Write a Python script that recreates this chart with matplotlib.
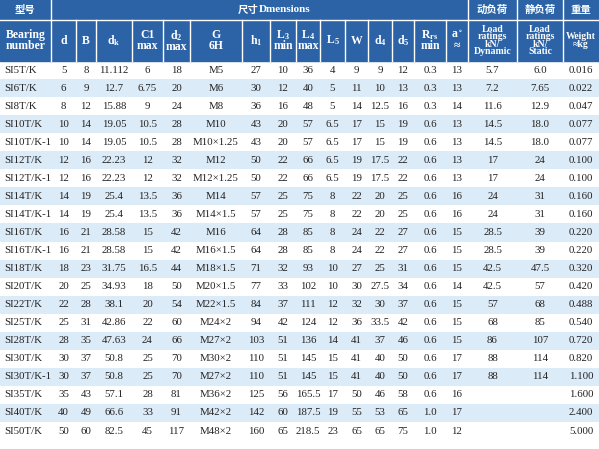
import matplotlib.pyplot as plt
from matplotlib.patches import Rectangle

plt.rcParams['font.family'] = ['Liberation Serif', 'Noto Sans CJK SC']
plt.rcParams['mathtext.fontset'] = 'stix'

# table data
models = ['SI5T/K', 'SI6T/K', 'SI8T/K', 'SI10T/K', 'SI10T/K-1', 'SI12T/K', 'SI12T/K-1',
          'SI14T/K', 'SI14T/K-1', 'SI16T/K', 'SI16T/K-1', 'SI18T/K', 'SI20T/K', 'SI22T/K',
          'SI25T/K', 'SI28T/K', 'SI30T/K', 'SI30T/K-1', 'SI35T/K', 'SI40T/K', 'SI50T/K']
d = ['5', '6', '8', '10', '10', '12', '12', '14', '14', '16', '16', '18', '20', '22', '25', '28', '30', '30', '35', '40', '50']
B = ['8', '9', '12', '14', '14', '16', '16', '19', '19', '21', '21', '23', '25', '28', '31', '35', '37', '37', '43', '49', '60']
dk = ['11.112', '12.7', '15.88', '19.05', '19.05', '22.23', '22.23', '25.4', '25.4', '28.58', '28.58',
      '31.75', '34.93', '38.1', '42.86', '47.63', '50.8', '50.8', '57.1', '66.6', '82.5']
C1 = ['6', '6.75', '9', '10.5', '10.5', '12', '12', '13.5', '13.5', '15', '15', '16.5', '18', '20',
      '22', '24', '25', '25', '28', '33', '45']
d2 = ['18', '20', '24', '28', '28', '32', '32', '36', '36', '42', '42', '44', '50', '54', '60', '66',
      '70', '70', '81', '91', '117']
G = ['M5', 'M6', 'M8', 'M10', 'M10×1.25', 'M12', 'M12×1.25', 'M14', 'M14×1.5', 'M16', 'M16×1.5',
     'M18×1.5', 'M20×1.5', 'M22×1.5', 'M24×2', 'M27×2', 'M30×2', 'M27×2', 'M36×2', 'M42×2', 'M48×2']
h1 = ['27', '30', '36', '43', '43', '50', '50', '57', '57', '64', '64', '71', '77', '84', '94', '103',
      '110', '110', '125', '142', '160']
L3 = ['10', '12', '16', '20', '20', '22', '22', '25', '25', '28', '28', '32', '33', '37', '42', '51',
      '51', '51', '56', '60', '65']
L4 = ['36', '40', '48', '57', '57', '66', '66', '75', '75', '85', '85', '93', '102', '111', '124', '136',
      '145', '145', '165.5', '187.5', '218.5']
L5 = ['4', '5', '5', '6.5', '6.5', '6.5', '6.5', '8', '8', '8', '8', '10', '10', '12', '12', '14',
      '15', '15', '17', '19', '23']
W = ['9', '11', '14', '17', '17', '19', '19', '22', '22', '24', '24', '27', '30', '32', '36', '41',
     '41', '41', '50', '55', '65']
d4 = ['9', '10', '12.5', '15', '15', '17.5', '17.5', '20', '20', '22', '22', '25', '27.5', '30', '33.5',
      '37', '40', '40', '46', '53', '65']
d5 = ['12', '13', '16', '19', '19', '22', '22', '25', '25', '27', '27', '31', '34', '37', '42', '46',
      '50', '50', '58', '65', '75']
rrs = ['0.3', '0.3', '0.3', '0.6', '0.6', '0.6', '0.6', '0.6', '0.6', '0.6', '0.6', '0.6', '0.6', '0.6',
       '0.6', '0.6', '0.6', '0.6', '0.6', '1.0', '1.0']
alpha = ['13', '13', '14', '13', '13', '13', '13', '16', '16', '15', '15', '15', '14', '15', '15', '15',
         '17', '17', '16', '17', '12']
dyn = ['5.7', '7.2', '11.6', '14.5', '14.5', '17', '17', '24', '24', '28.5', '28.5', '42.5', '42.5',
       '57', '68', '86', '88', '88', '', '', '']
stat = ['6.0', '7.65', '12.9', '18.0', '18.0', '24', '24', '31', '31', '39', '39', '47.5', '57', '68',
        '85', '107', '114', '114', '', '', '']
weight = ['0.016', '0.022', '0.047', '0.077', '0.077', '0.100', '0.100', '0.160', '0.160', '0.220',
          '0.220', '0.320', '0.420', '0.488', '0.540', '0.720', '0.820', '1.100', '1.600', '2.400', '5.000']

columns = [models, d, B, dk, C1, d2, G, h1, L3, L4, L5, W, d4, d5, rrs, alpha, dyn, stat, weight]
headers = ['Bearing\nnumber', 'd', 'B', 'd$_\\mathregular{k}$', 'C1\nmax', 'd$_\\mathregular{2}$\nmax',
           'G\n6H', 'h$_\\mathregular{1}$', 'L$_\\mathregular{3}$\nmin', 'L$_\\mathregular{4}$\nmax',
           'L$_\\mathregular{5}$', 'W', 'd$_\\mathregular{4}$', 'd$_\\mathregular{5}$',
           'R$_\\mathregular{rs}$\nmin', 'a$^\\circ$\n≈', 'Load\nratings\nkN/\nDynamic',
           'Load\nratings\nkN/\nStatic', 'Weight\n≈kg']
edges = [0, 51, 76, 96, 132, 163, 190, 242, 270, 296, 320, 345, 368, 392, 414, 446, 468, 517, 563, 599]

hdr_blue = '#2b63a6'
stripe = '#dcebf8'
top_h, hdr_h, row_h = 20, 41, 18.05

fig = plt.figure(figsize=(5.99, 4.49), dpi=100)
ax = fig.add_axes([0, 0, 1, 1])
ax.set_xlim(0, 599)
ax.set_ylim(449, 0)
ax.axis('off')

# header background
ax.add_patch(Rectangle((0, 0), 599, top_h + hdr_h, color=hdr_blue))
ax.plot([0, 599], [top_h, top_h], color='white', lw=1)
for x in edges[1:-1]:
    ax.plot([x, x], [top_h, top_h + hdr_h], color='white', lw=1)
for x in [51, 468, 517, 563]:
    ax.plot([x, x], [0, top_h], color='white', lw=1)

cjk = ['Noto Sans CJK SC', 'DejaVu Sans']
ax.text(25.5, 10, '型号', color='white', fontsize=7.5, ha='center', va='center', family=cjk, weight='bold')
ax.text(259, 10, '尺寸', color='white', fontsize=7.5, ha='right', va='center', family=cjk, weight='bold')
ax.text(259, 10, 'Dmensions', color='white', fontsize=8, ha='left', va='center', weight='bold')
for i, lab in zip([16, 17, 18], ['动负荷', '静负荷', '重量']):
    ax.text((edges[i] + edges[i + 1]) / 2, 10, lab, color='white', fontsize=7.5, ha='center',
            va='center', family=cjk, weight='bold')
for i, lab in enumerate(headers):
    fs = 7 if i >= 16 else 8.5
    ax.text((edges[i] + edges[i + 1]) / 2, top_h + hdr_h / 2, lab, color='white', fontsize=fs,
            ha='center', va='center', linespacing=0.8, weight='bold')

# body
y0 = top_h + hdr_h
for r in range(len(models)):
    y = y0 + r * row_h
    if r % 2 == 1:
        ax.add_patch(Rectangle((0, y), 599, row_h, color=stripe, lw=0))
    for c, col in enumerate(columns):
        if c == 0:
            ax.text(4, y + row_h / 2, col[r], fontsize=7.8, ha='left', va='center', color='#222222')
        else:
            ax.text((edges[c] + edges[c + 1]) / 2, y + row_h / 2, col[r], fontsize=7.8,
                    ha='center', va='center', color='#222222')

fig.savefig('out.png', dpi=100)
